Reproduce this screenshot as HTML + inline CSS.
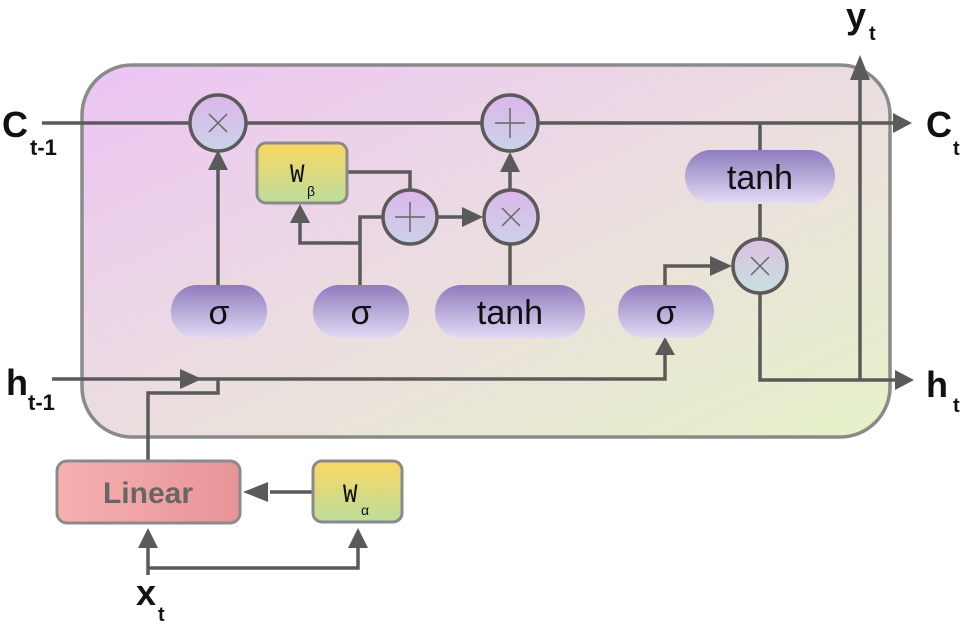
<!DOCTYPE html>
<html><head><style>body{margin:0;background:#fff}svg{display:block}</style></head><body>
<svg width="968" height="626" viewBox="0 0 968 626" xmlns="http://www.w3.org/2000/svg" font-family="Liberation Sans, sans-serif">
<defs>
<linearGradient id="bg" x1="0" y1="0" x2="1" y2="1"><stop offset="0" stop-color="#ecc4f4"/><stop offset="0.5" stop-color="#ebdde0"/><stop offset="1" stop-color="#e6f2c8"/></linearGradient>
<linearGradient id="pill" x1="0" y1="0" x2="0" y2="1"><stop offset="0" stop-color="#8e7cbd"/><stop offset="1" stop-color="#e2daf4"/></linearGradient>
<linearGradient id="circ" x1="0" y1="0" x2="0" y2="1"><stop offset="0" stop-color="#dcb6ea"/><stop offset="1" stop-color="#cbd2e8"/></linearGradient>
<linearGradient id="circ2" x1="0" y1="0" x2="0" y2="1"><stop offset="0" stop-color="#dcc0e0"/><stop offset="1" stop-color="#c8e0e0"/></linearGradient>
<linearGradient id="w" x1="0" y1="0" x2="0" y2="1"><stop offset="0" stop-color="#fbd862"/><stop offset="1" stop-color="#bcdc9c"/></linearGradient>
<linearGradient id="lin" x1="0" y1="0" x2="1" y2="0"><stop offset="0" stop-color="#f6b0b0"/><stop offset="1" stop-color="#e89498"/></linearGradient>
<marker id="a" markerWidth="8" markerHeight="8" refX="7" refY="4" orient="auto" markerUnits="userSpaceOnUse" viewBox="0 0 8 8"><path d="M0,0 L8,4 L0,8z" fill="#595959"/></marker>
</defs>
<g fill="none" stroke="#595959" stroke-width="3.5">
</g>
<rect x="82" y="65" width="808" height="372" rx="50" fill="url(#bg)" stroke="#8a8a8a" stroke-width="3.5"/>
<g fill="none" stroke="#5a5a5a" stroke-width="3.5">
<path d="M42 123 H890"/>
<path d="M890 123 H893"/>
<path d="M52 379 H665 V350"/>
<path d="M218 379 V393 H148 V460"/>
<path d="M218 337 V160"/>
<path d="M360 285 V217 H383"/>
<path d="M360 243 H300 V220"/>
<path d="M347 172 H410 V190"/>
<path d="M437 217 H470"/>
<path d="M510 285 V244"/>
<path d="M510 190 V165"/>
<path d="M665 285 V266 H718"/>
<path d="M760 123 V152"/>
<path d="M760 204 V239"/>
<path d="M760 293 V380 H895"/>
<path d="M860 380 V80"/>
<path d="M148 575 V545"/>
<path d="M148 568 H358 V545"/>
<path d="M313 492 H270"/>
</g>
<g fill="#5a5a5a">
<path d="M893 113 L912 123 L893 133z"/>
<path d="M895 370 L914 380 L895 390z"/>
<path d="M850 80 L860 55 L870 80z"/>
<path d="M655 355 L665 337 L675 355z"/>
<path d="M180 369 L202 379 L180 389z"/>
<path d="M208 170 L218 150 L228 170z"/>
<path d="M290 223 L300 204 L310 223z"/>
<path d="M462 207 L483 217 L462 227z"/>
<path d="M500 172 L510 152 L520 172z"/>
<path d="M710 256 L732 266 L710 276z"/>
<path d="M138 548 L148 528 L158 548z"/>
<path d="M348 548 L358 528 L368 548z"/>
<path d="M268 482 L243 492 L268 502z"/>
</g>
<g stroke="#5a5a5a" stroke-width="3.5">
<circle cx="218" cy="123" r="28" fill="url(#circ)"/>
<circle cx="510" cy="123" r="28" fill="url(#circ)"/>
<circle cx="410" cy="217" r="27" fill="url(#circ)"/>
<circle cx="511" cy="217" r="27" fill="url(#circ)"/>
<circle cx="760" cy="266" r="27" fill="url(#circ2)"/>
</g>
<g stroke="#666" stroke-width="1.5">
<path d="M209 114 L227 132 M227 114 L209 132"/>
<path d="M495 123 H525 M510 108 V138"/>
<path d="M395 217 H425 M410 202 V232"/>
<path d="M502 208 L520 226 M520 208 L502 226"/>
<path d="M751 257 L769 275 M769 257 L751 275"/>
</g>
<rect x="257" y="143" width="90" height="60" rx="9" fill="url(#w)" stroke="#8a8a8a" stroke-width="3"/>
<rect x="313" y="461" width="89" height="61" rx="9" fill="url(#w)" stroke="#8a8a8a" stroke-width="3"/>
<rect x="57" y="461" width="183" height="62" rx="10" fill="url(#lin)" stroke="#8a8a8a" stroke-width="3"/>
<g fill="url(#pill)">
<rect x="171" y="285" width="96" height="53" rx="26"/>
<rect x="313" y="285" width="96" height="53" rx="26"/>
<rect x="435" y="285" width="150" height="53" rx="26"/>
<rect x="618" y="285" width="96" height="53" rx="26"/>
<rect x="685" y="150" width="150" height="53" rx="26"/>
</g>
<g fill="#111" font-size="34" text-anchor="middle">
<text x="219" y="324">σ</text><text x="361" y="324">σ</text><text x="510" y="324">tanh</text><text x="666" y="324">σ</text><text x="760" y="189">tanh</text>
</g>
<text x="148" y="503" font-size="30" font-weight="bold" fill="#666" text-anchor="middle">Linear</text>
<text x="290" y="182" font-size="24" fill="#111" font-family="DejaVu Sans Mono, monospace">W</text><text x="307" y="196" font-size="14" fill="#111">β</text>
<text x="343" y="502" font-size="24" fill="#111" font-family="DejaVu Sans Mono, monospace">W</text><text x="361" y="515" font-size="14" fill="#111">α</text>
<g fill="#111" font-weight="bold">
<text x="2" y="137" font-size="36">C</text><text x="30" y="155" font-size="22">t-1</text>
<text x="6" y="395" font-size="36">h</text><text x="28" y="410" font-size="22">t-1</text>
<text x="136" y="605" font-size="36">x</text><text x="158" y="621" font-size="20">t</text>
<text x="926" y="137" font-size="36">C</text><text x="953" y="155" font-size="20">t</text>
<text x="926" y="397" font-size="36">h</text><text x="953" y="412" font-size="20">t</text>
<text x="846" y="28" font-size="36">y</text><text x="869" y="40" font-size="20">t</text>
</g>
</svg>
</body></html>
